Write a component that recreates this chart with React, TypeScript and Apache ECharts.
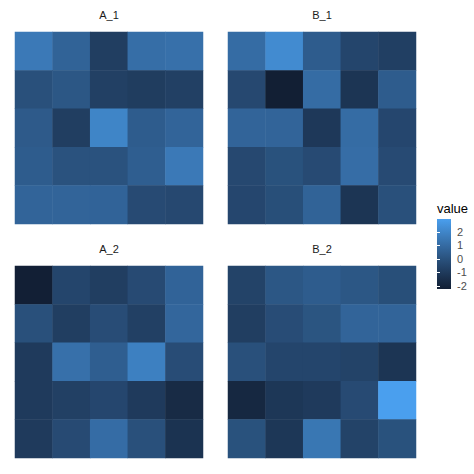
import React, { useEffect, useRef } from "react";
import * as echarts from "echarts";

// ---- data ----
const COLS = ["1", "2", "3", "4", "5"];
const ROWS = ["1", "2", "3", "4", "5"];
const PANEL_NAMES = ["A_1", "B_1", "A_2", "B_2"];

// rows listed top to bottom, columns left to right
const A_1 = [
  [1.54, 0.67, -0.83, 1.11, 1.2],
  [-0.09, 0.21, -0.74, -0.9, -0.74],
  [0.32, -0.83, 1.96, 0.41, 0.74],
  [0.41, 0.0, 0.0, 0.5, 1.54],
  [0.74, 0.74, 0.7, -0.32, -0.4],
];
const B_1 = [
  [1.03, 2.2, 0.41, -0.53, -0.78],
  [-0.4, -2.22, 1.03, -1.22, 0.41],
  [0.74, 0.74, -1.08, 1.03, -0.47],
  [-0.4, -0.02, -0.32, 1.08, -0.32],
  [-0.47, -0.14, 0.67, -1.22, -0.09],
];
const A_2 = [
  [-2.2, -0.53, -0.83, -0.32, 0.7],
  [-0.09, -0.83, -0.23, -0.74, 0.82],
  [-1.0, 1.2, 0.5, 1.81, -0.23],
  [-1.0, -0.74, -0.47, -1.0, -1.68],
  [-1.0, -0.32, 1.05, -0.09, -1.31],
];
const B_2 = [
  [-0.63, 0.21, 0.41, 0.21, -0.14],
  [-0.83, -0.23, 0.1, 0.74, 0.74],
  [-0.09, -0.53, -0.53, -0.63, -1.22],
  [-1.81, -1.14, -1.0, -0.32, 2.94],
  [-0.02, -1.14, 1.43, -0.63, -0.02],
];
const LEGEND_TICKS = [-2, -1, 0, 1, 2];
const LEGEND_TITLE = "value";

// ---- colour helpers (Lab gradient) ----
const LOW = "#121F34";
const HIGH = "#4A9FEE";

function hexToLab(hex: string): number[] {
  const r0 = parseInt(hex.slice(1, 3), 16) / 255;
  const g0 = parseInt(hex.slice(3, 5), 16) / 255;
  const b0 = parseInt(hex.slice(5, 7), 16) / 255;
  const lin = (c: number) => (c <= 0.04045 ? c / 12.92 : Math.pow((c + 0.055) / 1.055, 2.4));
  const r = lin(r0), g = lin(g0), b = lin(b0);
  const X = (0.4124 * r + 0.3576 * g + 0.1805 * b) / 0.95047;
  const Y = 0.2126 * r + 0.7152 * g + 0.0722 * b;
  const Z = (0.0193 * r + 0.1192 * g + 0.9505 * b) / 1.08883;
  const f = (t: number) => (t > 0.008856 ? Math.cbrt(t) : 7.787 * t + 16 / 116);
  const fx = f(X), fy = f(Y), fz = f(Z);
  return [116 * fy - 16, 500 * (fx - fy), 200 * (fy - fz)];
}
function labToHex(lab: number[]): string {
  const fy = (lab[0] + 16) / 116;
  const fx = fy + lab[1] / 500;
  const fz = fy - lab[2] / 200;
  const inv = (f: number) => (f * f * f > 0.008856 ? f * f * f : (f - 16 / 116) / 7.787);
  const X = inv(fx) * 0.95047, Y = inv(fy), Z = inv(fz) * 1.08883;
  const r = 3.2406 * X - 1.5372 * Y - 0.4986 * Z;
  const g = -0.9689 * X + 1.8758 * Y + 0.0415 * Z;
  const b = 0.0557 * X - 0.204 * Y + 1.057 * Z;
  const gam = (c: number) => {
    const v = c <= 0.0031308 ? 12.92 * c : 1.055 * Math.pow(c, 1 / 2.4) - 0.055;
    return Math.max(0, Math.min(255, Math.round(v * 255)));
  };
  return "#" + [gam(r), gam(g), gam(b)].map((v) => v.toString(16).padStart(2, "0")).join("");
}
const NSTOPS = 16;
const labLow = hexToLab(LOW);
const labHigh = hexToLab(HIGH);
const GRADIENT: string[] = [];
for (let i = 0; i <= NSTOPS; i++) {
  const t = i / NSTOPS;
  GRADIENT.push(labToHex(labLow.map((v, k) => v + (labHigh[k] - v) * t)));
}

const FONT = "Liberation Sans, Arial, sans-serif";

export default function App() {
  const ref = useRef<HTMLDivElement>(null);
  useEffect(() => {
    if (!ref.current) return;
    const chart = echarts.init(ref.current, undefined, { renderer: "svg" });
    const matrices = [A_1, B_1, A_2, B_2];
    const all = matrices.flat(2);
    const vmin = Math.min(...all);
    const vmax = Math.max(...all);

    const panelLayout = [
      { left: 15, top: 32 },
      { left: 228, top: 32 },
      { left: 15, top: 266 },
      { left: 228, top: 266 },
    ];
    const PW = 188;
    const PH = 192;

    const grids: any[] = panelLayout.map((p) => ({ left: p.left, top: p.top, width: PW, height: PH }));
    const LG = { left: 437, top: 219, width: 14, height: 70 };
    grids.push({ ...LG });

    const xAxes: any[] = panelLayout.map((_, i) => ({
      type: "category",
      gridIndex: i,
      data: COLS,
      show: false,
    }));
    xAxes.push({ type: "value", gridIndex: 4, show: false, min: 0, max: 1 });

    const yAxes: any[] = panelLayout.map((_, i) => ({
      type: "category",
      gridIndex: i,
      data: ROWS,
      inverse: true,
      show: false,
    }));
    const legendAxisBase = {
      type: "value",
      gridIndex: 4,
      min: vmin,
      max: vmax,
      axisLine: { show: false },
      splitLine: { show: false },
    };
    yAxes.push({
      ...legendAxisBase,
      position: "right",
      axisTick: {
        show: true,
        inside: true,
        length: 3,
        lineStyle: { color: "#ffffff", width: 1 },
        customValues: LEGEND_TICKS,
      },
      axisLabel: {
        show: true,
        customValues: LEGEND_TICKS,
        margin: 6,
        color: "#4D4D4D",
        fontSize: 11,
        fontFamily: FONT,
      },
    });
    yAxes.push({
      ...legendAxisBase,
      position: "left",
      axisTick: {
        show: true,
        inside: true,
        length: 3,
        lineStyle: { color: "#ffffff", width: 1 },
        customValues: LEGEND_TICKS,
      },
      axisLabel: { show: false },
    });

    const series: any[] = matrices.map((m, i) => {
      const data: any[] = [];
      m.forEach((row, r) => row.forEach((v, c) => data.push([COLS[c], ROWS[r], v])));
      return {
        type: "heatmap",
        xAxisIndex: i,
        yAxisIndex: i,
        data,
        itemStyle: { borderWidth: 0 },
        emphasis: { disabled: true },
      };
    });

    const graphics: any[] = panelLayout.map((p, i) => ({
      type: "text",
      x: p.left + PW / 2,
      y: p.top - 17,
      style: {
        text: PANEL_NAMES[i],
        align: "center",
        verticalAlign: "middle",
        fontSize: 11,
        fontFamily: FONT,
        fill: "#1A1A1A",
      },
    }));
    graphics.push({
      type: "rect",
      z: -1,
      shape: { x: LG.left, y: LG.top, width: LG.width, height: LG.height },
      style: {
        fill: new echarts.graphic.LinearGradient(
          0,
          1,
          0,
          0,
          GRADIENT.map((c, i) => ({ offset: i / NSTOPS, color: c }))
        ),
      },
    });
    graphics.push({
      type: "text",
      x: LG.left,
      y: 208,
      style: {
        text: LEGEND_TITLE,
        align: "left",
        verticalAlign: "middle",
        fontSize: 13,
        fontFamily: FONT,
        fill: "#000000",
      },
    });

    chart.setOption({
      animation: false,
      backgroundColor: "#ffffff",
      grid: grids,
      xAxis: xAxes,
      yAxis: yAxes,
      visualMap: {
        show: false,
        type: "continuous",
        min: vmin,
        max: vmax,
        seriesIndex: [0, 1, 2, 3],
        inRange: { color: GRADIENT },
      },
      series,
      graphic: graphics,
    });
    return () => chart.dispose();
  }, []);
  return (
    <div
      ref={ref}
      style={{ position: "fixed", left: 0, top: 0, width: 474, height: 474 }}
    />
  );
}
